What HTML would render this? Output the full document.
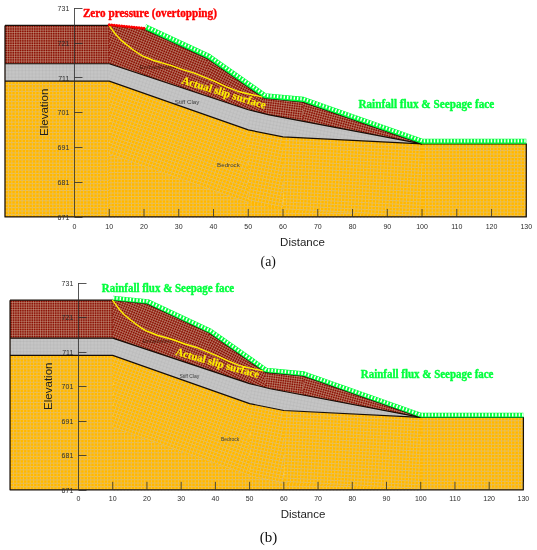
<!DOCTYPE html>
<html lang="en"><head><meta charset="utf-8"><title>Slope seepage boundary conditions</title>
<style>html,body{margin:0;padding:0;background:#fff}body{width:537px;height:550px;overflow:hidden}svg{display:block}</style></head>
<body>
<svg width="537" height="550" viewBox="0 0 537 550">
<rect width="537" height="550" fill="#fff"/>
<polygon points="4.99,81.14 109.25,81.14 248.27,129.91 283.02,136.87 422.04,143.84 526.30,143.84 526.30,216.98 4.99,216.98" fill="#ffb700"/>
<polygon points="4.99,63.73 109.25,63.73 248.27,109.70 269.12,114.93 422.04,143.84 422.04,143.84 283.02,136.87 248.27,129.91 109.25,81.14 4.99,81.14" fill="#c5c5c5"/>
<polygon points="4.99,25.41 109.25,25.41 144.01,28.90 207.26,58.33 264.26,98.21 302.83,101.87 422.04,143.84 422.04,143.84 269.12,114.93 248.27,109.70 109.25,63.73 4.99,63.73" fill="#8a0c00"/>
<path fill="none" stroke="#ece2cc" stroke-width="0.9" stroke-opacity="0.34" d="M4.99 84.56L109.25 84.56M4.99 87.98L109.25 87.98M4.99 91.4L109.25 91.4M4.99 94.82L109.25 94.82M4.99 98.24L109.25 98.24M4.99 101.65L109.25 101.65M4.99 105.07L109.25 105.07M4.99 108.49L109.25 108.49M4.99 111.91L109.25 111.91M4.99 115.33L109.25 115.33M4.99 118.75L109.25 118.75M4.99 122.16L109.25 122.16M4.99 125.58L109.25 125.58M4.99 129L109.25 129M4.99 132.42L109.25 132.42M4.99 135.84L109.25 135.84M4.99 139.26L109.25 139.26M4.99 142.67L109.25 142.67M4.99 146.09L109.25 146.09M4.99 149.51L109.25 149.51M4.99 152.93L109.25 152.93M4.99 156.35L109.25 156.35M4.99 159.77L109.25 159.77M4.99 163.19L109.25 163.19M4.99 166.6L109.25 166.6M4.99 170.02L109.25 170.02M4.99 173.44L109.25 173.44M4.99 176.86L109.25 176.86M4.99 180.28L109.25 180.28M4.99 183.7L109.25 183.7M4.99 187.11L109.25 187.11M4.99 190.53L109.25 190.53M4.99 193.95L109.25 193.95M4.99 197.37L109.25 197.37M4.99 200.79L109.25 200.79M4.99 204.21L109.25 204.21M4.99 207.62L109.25 207.62M4.99 211.04L109.25 211.04M4.99 214.46L109.25 214.46M8.41 81.14L8.41 216.98M11.83 81.14L11.83 216.98M15.25 81.14L15.25 216.98M18.67 81.14L18.67 216.98M22.08 81.14L22.08 216.98M25.5 81.14L25.5 216.98M28.92 81.14L28.92 216.98M32.34 81.14L32.34 216.98M35.76 81.14L35.76 216.98M39.18 81.14L39.18 216.98M42.59 81.14L42.59 216.98M46.01 81.14L46.01 216.98M49.43 81.14L49.43 216.98M52.85 81.14L52.85 216.98M56.27 81.14L56.27 216.98M59.69 81.14L59.69 216.98M63.11 81.14L63.11 216.98M66.52 81.14L66.52 216.98M69.94 81.14L69.94 216.98M73.36 81.14L73.36 216.98M76.78 81.14L76.78 216.98M80.2 81.14L80.2 216.98M83.62 81.14L83.62 216.98M87.03 81.14L87.03 216.98M90.45 81.14L90.45 216.98M93.87 81.14L93.87 216.98M97.29 81.14L97.29 216.98M100.71 81.14L100.71 216.98M104.13 81.14L104.13 216.98M107.54 81.14L107.54 216.98M109.25 84.77L248.27 133.53M109.25 88.39L248.27 137.15M109.25 92.01L248.27 140.77M109.25 95.63L248.27 144.4M109.25 99.26L248.27 148.02M109.25 102.88L248.27 151.64M109.25 106.5L248.27 155.26M109.25 110.12L248.27 158.89M109.25 113.75L248.27 162.51M109.25 117.37L248.27 166.13M109.25 120.99L248.27 169.75M109.25 124.61L248.27 173.38M109.25 128.24L248.27 177M109.25 131.86L248.27 180.62M109.25 135.48L248.27 184.24M109.25 139.1L248.27 187.87M109.25 142.73L248.27 191.49M109.25 146.35L248.27 195.11M109.25 149.97L248.27 198.73M109.25 153.6L248.27 202.36M112.48 82.27L109.25 91.47M115.71 83.41L109.25 101.8M118.93 84.54L109.25 112.13M122.16 85.67L109.25 122.45M125.38 86.8L109.25 132.78M128.61 87.93L109.25 143.11M131.83 89.06L109.25 153.44M135.06 90.19L112.21 155.32M138.29 91.33L115.44 156.46M141.51 92.46L118.67 157.59M144.74 93.59L121.89 158.72M147.96 94.72L125.12 159.85M151.19 95.85L128.34 160.98M154.41 96.98L131.57 162.11M157.64 98.12L134.79 163.24M160.87 99.25L138.02 164.38M164.09 100.38L141.25 165.51M167.32 101.51L144.47 166.64M170.54 102.64L147.7 167.77M173.77 103.77L150.92 168.9M176.99 104.9L154.15 170.03M180.22 106.04L157.38 171.17M183.45 107.17L160.6 172.3M186.67 108.3L163.83 173.43M189.9 109.43L167.05 174.56M193.12 110.56L170.28 175.69M196.35 111.69L173.5 176.82M199.57 112.82L176.73 177.95M202.8 113.96L179.96 179.09M206.03 115.09L183.18 180.22M209.25 116.22L186.41 181.35M212.48 117.35L189.63 182.48M215.7 118.48L192.86 183.61M218.93 119.61L196.08 184.74M222.15 120.74L199.31 185.87M225.38 121.88L202.54 187.01M228.61 123.01L205.76 188.14M231.83 124.14L208.99 189.27M235.06 125.27L212.21 190.4M238.28 126.4L215.44 191.53M241.51 127.53L218.66 192.66M244.74 128.67L221.89 193.79M247.96 129.8L225.12 194.93M248.27 139.24L228.34 196.06M248.27 149.57L231.57 197.19M248.27 159.9L234.79 198.32M248.27 170.23L238.02 199.45M248.27 180.55L241.24 200.58M248.27 190.88L244.47 201.72M248.27 201.21L247.7 202.85M248.27 133.39L283.02 140.36M248.27 136.88L283.02 143.84M248.27 140.36L283.02 147.33M248.27 143.85L283.02 150.82M248.27 147.34L283.02 154.3M248.27 150.82L283.02 157.79M248.27 154.31L283.02 161.28M248.27 157.8L283.02 164.76M248.27 161.28L283.02 168.25M248.27 164.77L283.02 171.74M248.27 168.26L283.02 175.22M248.27 171.74L283.02 178.71M248.27 175.23L283.02 182.19M248.27 178.71L283.02 185.68M248.27 182.2L283.02 189.17M248.27 185.69L283.02 192.65M248.27 189.17L283.02 196.14M248.27 192.66L283.02 199.63M248.27 196.15L283.02 203.11M248.27 199.63L283.02 206.6M251.62 130.58L248.27 147.3M254.97 131.25L248.27 164.69M258.33 131.92L248.27 182.09M261.68 132.59L248.27 199.48M265.03 133.26L250.93 203.58M268.38 133.94L254.29 204.25M271.73 134.61L257.64 204.93M275.08 135.28L260.99 205.6M278.44 135.95L264.34 206.27M281.79 136.62L267.69 206.94M283.02 147.85L271.05 207.61M283.02 165.24L274.4 208.28M283.02 182.64L277.75 208.96M283.02 200.03L281.1 209.63M283.02 140.29L422.04 147.26M283.02 143.72L422.04 150.68M283.02 147.14L422.04 154.11M283.02 150.56L422.04 157.53M283.02 153.98L422.04 160.95M283.02 157.41L422.04 164.37M283.02 160.83L422.04 167.8M283.02 164.25L422.04 171.22M283.02 167.68L422.04 174.64M283.02 171.1L422.04 178.06M283.02 174.52L422.04 181.49M283.02 177.94L422.04 184.91M283.02 181.37L422.04 188.33M283.02 184.79L422.04 191.76M283.02 188.21L422.04 195.18M283.02 191.63L422.04 198.6M283.02 195.06L422.04 202.02M283.02 198.48L422.04 205.45M283.02 201.9L422.04 208.87M283.02 205.33L422.04 212.29M283.02 208.75L422.04 215.71M286.44 137.04L283.02 205.18M289.85 137.21L286.2 210.17M293.27 137.38L289.61 210.34M296.68 137.56L293.02 210.52M300.09 137.73L296.44 210.69M303.51 137.9L299.85 210.86M306.92 138.07L303.27 211.03M310.34 138.24L306.68 211.2M313.75 138.41L310.1 211.37M317.17 138.58L313.51 211.54M320.58 138.75L316.92 211.71M323.99 138.92L320.34 211.88M327.41 139.1L323.75 212.05M330.82 139.27L327.17 212.23M334.24 139.44L330.58 212.4M337.65 139.61L333.99 212.57M341.06 139.78L337.41 212.74M344.48 139.95L340.82 212.91M347.89 140.12L344.24 213.08M351.31 140.29L347.65 213.25M354.72 140.46L351.07 213.42M358.14 140.63L354.48 213.59M361.55 140.81L357.89 213.77M364.96 140.98L361.31 213.94M368.38 141.15L364.72 214.11M371.79 141.32L368.14 214.28M375.21 141.49L371.55 214.45M378.62 141.66L374.96 214.62M382.03 141.83L378.38 214.79M385.45 142L381.79 214.96M388.86 142.17L385.21 215.13M392.28 142.35L388.62 215.31M395.69 142.52L392.03 215.48M399.1 142.69L395.45 215.65M402.52 142.86L398.86 215.82M405.93 143.03L402.28 215.99M409.35 143.2L405.69 216.16M412.76 143.37L409.11 216.33M416.18 143.54L412.52 216.5M419.59 143.71L415.93 216.67M422.04 163.12L419.35 216.85M422.04 147.26L526.3 147.26M422.04 150.67L526.3 150.67M422.04 154.09L526.3 154.09M422.04 157.51L526.3 157.51M422.04 160.93L526.3 160.93M422.04 164.35L526.3 164.35M422.04 167.77L526.3 167.77M422.04 171.18L526.3 171.18M422.04 174.6L526.3 174.6M422.04 178.02L526.3 178.02M422.04 181.44L526.3 181.44M422.04 184.86L526.3 184.86M422.04 188.28L526.3 188.28M422.04 191.69L526.3 191.69M422.04 195.11L526.3 195.11M422.04 198.53L526.3 198.53M422.04 201.95L526.3 201.95M422.04 205.37L526.3 205.37M422.04 208.79L526.3 208.79M422.04 212.21L526.3 212.21M422.04 215.62L526.3 215.62M425.46 143.84L425.46 216.98M428.88 143.84L428.88 216.98M432.3 143.84L432.3 216.98M435.71 143.84L435.71 216.98M439.13 143.84L439.13 216.98M442.55 143.84L442.55 216.98M445.97 143.84L445.97 216.98M449.39 143.84L449.39 216.98M452.81 143.84L452.81 216.98M456.22 143.84L456.22 216.98M459.64 143.84L459.64 216.98M463.06 143.84L463.06 216.98M466.48 143.84L466.48 216.98M469.9 143.84L469.9 216.98M473.32 143.84L473.32 216.98M476.73 143.84L476.73 216.98M480.15 143.84L480.15 216.98M483.57 143.84L483.57 216.98M486.99 143.84L486.99 216.98M490.41 143.84L490.41 216.98M493.83 143.84L493.83 216.98M497.25 143.84L497.25 216.98M500.66 143.84L500.66 216.98M504.08 143.84L504.08 216.98M507.5 143.84L507.5 216.98M510.92 143.84L510.92 216.98M514.34 143.84L514.34 216.98M517.76 143.84L517.76 216.98M521.17 143.84L521.17 216.98M524.59 143.84L524.59 216.98M109.25 155.45L112.57 155.45M109.25 158.87L122.31 158.87M109.25 162.29L132.06 162.29M109.25 165.7L141.8 165.7M109.25 169.12L151.55 169.12M109.25 172.54L161.3 172.54M109.25 175.96L171.04 175.96M109.25 179.38L180.79 179.38M109.25 182.8L190.53 182.8M109.25 186.21L200.28 186.21M109.25 189.63L210.02 189.63M109.25 193.05L219.77 193.05M109.25 196.47L229.52 196.47M109.25 199.89L239.26 199.89M109.25 203.31L249.56 203.31M109.25 206.72L266.61 206.72M109.25 210.14L285.6 210.14M109.25 213.56L353.82 213.56M109.25 216.98L422.04 216.98M110.96 154.89L110.96 216.98M114.38 156.08L114.38 216.98M117.8 157.28L117.8 216.98M121.22 158.48L121.22 216.98M124.64 159.68L124.64 216.98M128.06 160.88L128.06 216.98M131.47 162.08L131.47 216.98M134.89 163.28L134.89 216.98M138.31 164.48L138.31 216.98M141.73 165.68L141.73 216.98M145.15 166.88L145.15 216.98M148.57 168.08L148.57 216.98M151.98 169.27L151.98 216.98M155.4 170.47L155.4 216.98M158.82 171.67L158.82 216.98M162.24 172.87L162.24 216.98M165.66 174.07L165.66 216.98M169.08 175.27L169.08 216.98M172.49 176.47L172.49 216.98M175.91 177.67L175.91 216.98M179.33 178.87L179.33 216.98M182.75 180.07L182.75 216.98M186.17 181.26L186.17 216.98M189.59 182.46L189.59 216.98M193.01 183.66L193.01 216.98M196.42 184.86L196.42 216.98M199.84 186.06L199.84 216.98M203.26 187.26L203.26 216.98M206.68 188.46L206.68 216.98M210.1 189.66L210.1 216.98M213.52 190.86L213.52 216.98M216.93 192.06L216.93 216.98M220.35 193.26L220.35 216.98M223.77 194.45L223.77 216.98M227.19 195.65L227.19 216.98M230.61 196.85L230.61 216.98M234.03 198.05L234.03 216.98M237.44 199.25L237.44 216.98M240.86 200.45L240.86 216.98M244.28 201.65L244.28 216.98M247.7 202.85L247.7 216.98M251.12 203.62L251.12 216.98M254.54 204.3L254.54 216.98M257.96 204.99L257.96 216.98M261.37 205.67L261.37 216.98M264.79 206.36L264.79 216.98M268.21 207.04L268.21 216.98M271.63 207.73L271.63 216.98M275.05 208.42L275.05 216.98M278.47 209.1L278.47 216.98M281.88 209.79L281.88 216.98M285.3 210.13L285.3 216.98M288.72 210.3L288.72 216.98M292.14 210.47L292.14 216.98M295.56 210.64L295.56 216.98M298.98 210.81L298.98 216.98M302.4 210.98L302.4 216.98M305.81 211.16L305.81 216.98M309.23 211.33L309.23 216.98M312.65 211.5L312.65 216.98M316.07 211.67L316.07 216.98M319.49 211.84L319.49 216.98M322.91 212.01L322.91 216.98M326.32 212.18L326.32 216.98M329.74 212.36L329.74 216.98M333.16 212.53L333.16 216.98M336.58 212.7L336.58 216.98M340 212.87L340 216.98M343.42 213.04L343.42 216.98M346.83 213.21L346.83 216.98M350.25 213.38L350.25 216.98M353.67 213.55L353.67 216.98M357.09 213.73L357.09 216.98M360.51 213.9L360.51 216.98M363.93 214.07L363.93 216.98M367.35 214.24L367.35 216.98M370.76 214.41L370.76 216.98M374.18 214.58L374.18 216.98M377.6 214.75L377.6 216.98M381.02 214.92L381.02 216.98M384.44 215.1L384.44 216.98M387.86 215.27L387.86 216.98M391.27 215.44L391.27 216.98M394.69 215.61L394.69 216.98M398.11 215.78L398.11 216.98M401.53 215.95L401.53 216.98M404.95 216.12L404.95 216.98M408.37 216.29L408.37 216.98M411.78 216.47L411.78 216.98M415.2 216.64L415.2 216.98"/>
<path fill="none" stroke="#a89f90" stroke-width="1.3" stroke-opacity="0.44" stroke-dasharray="1.3 2.12" d="M7.76 84.56L109.25 84.56M7.76 87.98L109.25 87.98M7.76 91.4L109.25 91.4M7.76 94.82L109.25 94.82M7.76 98.24L109.25 98.24M7.76 101.65L109.25 101.65M7.76 105.07L109.25 105.07M7.76 108.49L109.25 108.49M7.76 111.91L109.25 111.91M7.76 115.33L109.25 115.33M7.76 118.75L109.25 118.75M7.76 122.16L109.25 122.16M7.76 125.58L109.25 125.58M7.76 129L109.25 129M7.76 132.42L109.25 132.42M7.76 135.84L109.25 135.84M7.76 139.26L109.25 139.26M7.76 142.67L109.25 142.67M7.76 146.09L109.25 146.09M7.76 149.51L109.25 149.51M7.76 152.93L109.25 152.93M7.76 156.35L109.25 156.35M7.76 159.77L109.25 159.77M7.76 163.19L109.25 163.19M7.76 166.6L109.25 166.6M7.76 170.02L109.25 170.02M7.76 173.44L109.25 173.44M7.76 176.86L109.25 176.86M7.76 180.28L109.25 180.28M7.76 183.7L109.25 183.7M7.76 187.11L109.25 187.11M7.76 190.53L109.25 190.53M7.76 193.95L109.25 193.95M7.76 197.37L109.25 197.37M7.76 200.79L109.25 200.79M7.76 204.21L109.25 204.21M7.76 207.62L109.25 207.62M7.76 211.04L109.25 211.04M7.76 214.46L109.25 214.46M110.73 85.29L248.27 133.53M109.6 88.51L248.27 137.15M111.7 92.87L248.27 140.77M110.57 96.09L248.27 144.4M109.43 99.32L248.27 148.02M111.53 103.68L248.27 151.64M110.4 106.9L248.27 155.26M109.27 110.13L248.27 158.89M111.36 114.49L248.27 162.51M110.23 117.71L248.27 166.13M112.32 122.07L248.27 169.75M111.19 125.29L248.27 173.38M110.06 128.52L248.27 177M112.15 132.88L248.27 180.62M111.02 136.1L248.27 184.24M109.89 139.33L248.27 187.87M111.99 143.69L248.27 191.49M110.85 146.91L248.27 195.11M109.72 150.14L248.27 198.73M111.82 154.49L248.27 202.36M250.31 133.8L283.02 140.36M249.64 137.15L283.02 143.84M248.97 140.5L283.02 147.33M248.3 143.86L283.02 150.82M250.98 147.88L283.02 154.3M250.31 151.23L283.02 157.79M249.63 154.58L283.02 161.28M248.96 157.93L283.02 164.76M248.29 161.29L283.02 168.25M250.97 165.31L283.02 171.74M250.3 168.66L283.02 175.22M249.63 172.01L283.02 178.71M248.95 175.37L283.02 182.19M248.28 178.72L283.02 185.68M250.96 182.74L283.02 189.17M250.29 186.09L283.02 192.65M249.62 189.44L283.02 196.14M248.95 192.8L283.02 199.63M248.28 196.15L283.02 203.11M250.96 200.17L283.02 206.6M285.62 140.42L422.04 147.26M285.45 143.84L422.04 150.68M285.28 147.25L422.04 154.11M285.1 150.67L422.04 157.53M284.93 154.08L422.04 160.95M284.76 157.49L422.04 164.37M284.59 160.91L422.04 167.8M284.42 164.32L422.04 171.22M284.25 167.74L422.04 174.64M284.08 171.15L422.04 178.06M283.91 174.57L422.04 181.49M283.74 177.98L422.04 184.91M283.56 181.39L422.04 188.33M283.39 184.81L422.04 191.76M283.22 188.22L422.04 195.18M283.05 191.64L422.04 198.6M286.29 195.22L422.04 202.02M286.12 198.64L422.04 205.45M285.95 202.05L422.04 208.87M285.78 205.46L422.04 212.29M285.61 208.88L422.04 215.71M424.81 147.26L526.3 147.26M424.81 150.67L526.3 150.67M424.81 154.09L526.3 154.09M424.81 157.51L526.3 157.51M424.81 160.93L526.3 160.93M424.81 164.35L526.3 164.35M424.81 167.77L526.3 167.77M424.81 171.18L526.3 171.18M424.81 174.6L526.3 174.6M424.81 178.02L526.3 178.02M424.81 181.44L526.3 181.44M424.81 184.86L526.3 184.86M424.81 188.28L526.3 188.28M424.81 191.69L526.3 191.69M424.81 195.11L526.3 195.11M424.81 198.53L526.3 198.53M424.81 201.95L526.3 201.95M424.81 205.37L526.3 205.37M424.81 208.79L526.3 208.79M424.81 212.21L526.3 212.21M424.81 215.62L526.3 215.62M110.31 155.45L112.57 155.45M110.31 158.87L122.31 158.87M110.31 162.29L132.06 162.29M110.31 165.7L141.8 165.7M110.31 169.12L151.55 169.12M110.31 172.54L161.3 172.54M110.31 175.96L171.04 175.96M110.31 179.38L180.79 179.38M110.31 182.8L190.53 182.8M110.31 186.21L200.28 186.21M110.31 189.63L210.02 189.63M110.31 193.05L219.77 193.05M110.31 196.47L229.52 196.47M110.31 199.89L239.26 199.89M110.31 203.31L249.56 203.31M110.31 206.72L266.61 206.72M110.31 210.14L285.6 210.14M110.31 213.56L353.82 213.56M110.31 216.98L422.04 216.98"/>
<path fill="none" stroke="#8f8f8f" stroke-width="0.8" stroke-opacity="0.15" d="M4.99 67.15L109.25 67.15M4.99 70.56L109.25 70.56M4.99 73.98L109.25 73.98M4.99 77.4L109.25 77.4M4.99 80.82L109.25 80.82M8.41 63.73L8.41 81.14M11.83 63.73L11.83 81.14M15.25 63.73L15.25 81.14M18.67 63.73L18.67 81.14M22.08 63.73L22.08 81.14M25.5 63.73L25.5 81.14M28.92 63.73L28.92 81.14M32.34 63.73L32.34 81.14M35.76 63.73L35.76 81.14M39.18 63.73L39.18 81.14M42.59 63.73L42.59 81.14M46.01 63.73L46.01 81.14M49.43 63.73L49.43 81.14M52.85 63.73L52.85 81.14M56.27 63.73L56.27 81.14M59.69 63.73L59.69 81.14M63.11 63.73L63.11 81.14M66.52 63.73L66.52 81.14M69.94 63.73L69.94 81.14M73.36 63.73L73.36 81.14M76.78 63.73L76.78 81.14M80.2 63.73L80.2 81.14M83.62 63.73L83.62 81.14M87.03 63.73L87.03 81.14M90.45 63.73L90.45 81.14M93.87 63.73L93.87 81.14M97.29 63.73L97.29 81.14M100.71 63.73L100.71 81.14M104.13 63.73L104.13 81.14M107.54 63.73L107.54 81.14M109.25 63.73L248.27 111.1M109.25 67.34L248.27 114.71M109.25 70.95L248.27 118.32M109.25 74.56L248.27 121.93M109.25 78.17L248.27 125.54M173.33 103.62L248.27 129.15M112.5 64.8L109.25 74.33M115.75 65.87L110.41 81.55M118.99 66.95L113.63 82.68M122.24 68.02L116.86 83.81M125.48 69.1L120.08 84.94M128.73 70.17L123.31 86.07M131.97 71.24L126.53 87.2M135.22 72.32L129.76 88.34M138.47 73.39L132.99 89.47M141.71 74.46L136.21 90.6M144.96 75.54L139.44 91.73M148.2 76.61L142.66 92.86M151.45 77.68L145.89 93.99M154.69 78.76L149.12 95.13M157.94 79.83L152.34 96.26M161.18 80.9L155.57 97.39M164.43 81.98L158.79 98.52M167.68 83.05L162.02 99.65M170.92 84.12L165.24 100.78M174.17 85.2L168.47 101.91M177.41 86.27L171.7 103.05M180.66 87.34L174.92 104.18M183.9 88.42L178.15 105.31M187.15 89.49L181.37 106.44M190.4 90.56L184.6 107.57M193.64 91.64L187.83 108.7M196.89 92.71L191.05 109.83M200.13 93.78L194.28 110.97M203.38 94.86L197.5 112.1M206.62 95.93L200.73 113.23M209.87 97L203.96 114.36M213.12 98.08L207.18 115.49M216.36 99.15L210.41 116.62M219.61 100.22L213.63 117.76M222.85 101.3L216.86 118.89M226.1 102.37L220.08 120.02M229.34 103.44L223.31 121.15M232.59 104.52L226.54 122.28M235.84 105.59L229.76 123.41M239.08 106.66L232.99 124.54M242.33 107.74L236.21 125.68M245.57 108.81L239.44 126.81M248.27 111.49L242.67 127.94M248.27 122.09L245.89 129.07M248.27 113.18L404.69 142.97M248.27 116.66L379.88 141.72M248.27 120.14L355.08 140.48M248.27 123.62L330.28 139.24M248.27 127.1L305.48 138M251.59 110.54L248.27 127.98M254.91 111.37L251.27 130.51M258.23 112.2L254.62 131.18M261.56 113.03L257.97 131.85M264.88 113.86L261.32 132.52M268.2 114.7L264.68 133.19M271.55 115.39L268.03 133.87M274.91 116.02L271.38 134.54M278.26 116.66L274.73 135.21M281.62 117.29L278.08 135.88M284.98 117.93L281.44 136.55M288.34 118.56L284.84 136.96M291.7 119.2L288.28 137.13M295.06 119.83L291.73 137.31M298.42 120.47L295.18 137.48M301.78 121.1L298.63 137.65M305.14 121.74L302.07 137.83M308.5 122.37L305.52 138M311.85 123.01L308.97 138.17M315.21 123.64L312.41 138.34M318.57 124.28L315.86 138.52M321.93 124.91L319.31 138.69M325.29 125.55L322.75 138.86M328.65 126.18L326.2 139.03M332.01 126.82L329.65 139.21M335.37 127.45L333.1 139.38M338.73 128.09L336.54 139.55M342.08 128.72L339.99 139.73M345.44 129.36L343.44 139.9M348.8 129.99L346.88 140.07M352.16 130.63L350.33 140.24M355.52 131.26L353.78 140.42M358.88 131.9L357.22 140.59M362.24 132.53L360.67 140.76M365.6 133.17L364.12 140.93M368.96 133.8L367.56 141.11M372.31 134.44L371.01 141.28M375.67 135.07L374.46 141.45M379.03 135.71L377.91 141.63M382.39 136.34L381.35 141.8M385.75 136.98L384.8 141.97M389.11 137.61L388.25 142.14M392.47 138.25L391.69 142.32M395.83 138.88L395.14 142.49M399.19 139.52L398.59 142.66M402.55 140.15L402.03 142.83M405.9 140.79L405.48 143.01M409.26 141.42L408.93 143.18M412.62 142.06L412.38 143.35M415.98 142.69L415.82 143.53M419.34 143.33L419.27 143.7"/>
<path fill="none" stroke="#d8c4aa" stroke-width="0.8" stroke-opacity="0.54" d="M4.99 27.79L109.25 27.79M4.99 30.17L109.25 30.17M4.99 32.55L109.25 32.55M4.99 34.93L109.25 34.93M4.99 37.31L109.25 37.31M4.99 39.69L109.25 39.69M4.99 42.07L109.25 42.07M4.99 44.45L109.25 44.45M4.99 46.83L109.25 46.83M4.99 49.2L109.25 49.2M4.99 51.58L109.25 51.58M4.99 53.96L109.25 53.96M4.99 56.34L109.25 56.34M4.99 58.72L109.25 58.72M4.99 61.1L109.25 61.1M4.99 63.48L109.25 63.48M7.37 25.41L7.37 63.73M9.75 25.41L9.75 63.73M12.13 25.41L12.13 63.73M14.51 25.41L14.51 63.73M16.89 25.41L16.89 63.73M19.27 25.41L19.27 63.73M21.64 25.41L21.64 63.73M24.02 25.41L24.02 63.73M26.4 25.41L26.4 63.73M28.78 25.41L28.78 63.73M31.16 25.41L31.16 63.73M33.54 25.41L33.54 63.73M35.92 25.41L35.92 63.73M38.3 25.41L38.3 63.73M40.68 25.41L40.68 63.73M43.05 25.41L43.05 63.73M45.43 25.41L45.43 63.73M47.81 25.41L47.81 63.73M50.19 25.41L50.19 63.73M52.57 25.41L52.57 63.73M54.95 25.41L54.95 63.73M57.33 25.41L57.33 63.73M59.71 25.41L59.71 63.73M62.09 25.41L62.09 63.73M64.46 25.41L64.46 63.73M66.84 25.41L66.84 63.73M69.22 25.41L69.22 63.73M71.6 25.41L71.6 63.73M73.98 25.41L73.98 63.73M76.36 25.41L76.36 63.73M78.74 25.41L78.74 63.73M81.12 25.41L81.12 63.73M83.5 25.41L83.5 63.73M85.87 25.41L85.87 63.73M88.25 25.41L88.25 63.73M90.63 25.41L90.63 63.73M93.01 25.41L93.01 63.73M95.39 25.41L95.39 63.73M97.77 25.41L97.77 63.73M100.15 25.41L100.15 63.73M102.53 25.41L102.53 63.73M104.91 25.41L104.91 63.73M107.28 25.41L107.28 63.73M143.35 28.83L147.07 30.32M134.83 27.98L186.85 48.83M126.3 27.12L207.26 59.58M117.78 26.27L207.26 62.14M109.25 25.41L207.26 64.7M109.25 27.98L207.26 67.27M109.25 30.54L207.26 69.83M109.25 33.1L207.26 72.39M109.25 35.67L207.26 74.95M109.25 38.23L207.26 77.52M109.25 40.79L207.26 80.08M109.25 43.36L207.26 82.64M109.25 45.92L207.26 85.21M109.25 48.48L207.26 87.77M109.25 51.04L207.26 90.33M109.25 53.61L207.26 92.9M109.25 56.17L207.26 95.46M109.25 58.73L180.45 87.28M109.25 61.3L143.92 75.19M111.72 25.66L109.25 31.81M114.18 25.91L109.25 38.2M116.65 26.16L109.25 44.6M119.11 26.4L109.25 50.99M121.57 26.65L109.25 57.38M124.04 26.9L109.27 63.73M126.5 27.14L111.53 64.48M128.97 27.39L113.8 65.23M131.43 27.64L116.06 65.98M133.89 27.88L118.32 66.73M136.36 28.13L120.59 67.48M138.82 28.38L122.85 68.22M141.29 28.63L125.11 68.97M143.75 28.87L127.37 69.72M145.94 29.8L129.64 70.47M148.1 30.8L131.9 71.22M150.26 31.81L134.16 71.97M152.42 32.81L136.43 72.71M154.58 33.82L138.69 73.46M156.74 34.82L140.95 74.21M158.9 35.83L143.21 74.96M161.06 36.83L145.48 75.71M163.22 37.84L147.74 76.46M165.38 38.84L150 77.2M167.54 39.85L152.27 77.95M169.7 40.85L154.53 78.7M171.86 41.86L156.79 79.45M174.02 42.86L159.05 80.2M176.18 43.87L161.32 80.95M178.34 44.87L163.58 81.7M180.5 45.88L165.84 82.44M182.66 46.88L168.11 83.19M184.82 47.89L170.37 83.94M186.98 48.89L172.63 84.69M189.14 49.9L174.9 85.44M191.3 50.9L177.16 86.19M193.46 51.91L179.42 86.93M195.62 52.91L181.68 87.68M197.78 53.92L183.95 88.43M199.94 54.92L186.21 89.18M202.1 55.93L188.47 89.93M204.26 56.93L190.74 90.68M206.42 57.94L193 91.42M207.26 62.24L195.26 92.17M207.26 68.63L197.52 92.92M207.26 75.03L199.79 93.67M207.26 81.42L202.05 94.42M207.26 87.81L204.31 95.17M207.26 94.21L206.58 95.91M207.26 61.01L222.28 68.84M207.26 63.69L237.31 79.35M207.26 66.38L252.33 89.86M207.26 69.06L264.26 98.76M207.26 71.74L264.26 101.45M207.26 74.42L264.26 104.13M207.26 77.11L264.26 106.81M207.26 79.79L264.26 109.49M207.26 82.47L264.26 112.18M207.26 85.15L260.01 112.65M207.26 87.84L250.1 110.16M207.26 90.52L236.78 105.9M207.26 93.2L222.69 101.24M207.26 95.89L208.6 96.58M209.23 59.7L207.26 63.48M211.19 61.08L207.26 68.62M213.16 62.46L207.26 73.77M215.12 63.83L207.26 78.92M217.09 65.21L207.26 84.07M219.05 66.58L207.26 89.21M221.02 67.96L207.26 94.36M222.99 69.33L208.76 96.64M224.95 70.71L211.05 97.39M226.92 72.08L213.33 98.15M228.88 73.46L215.62 98.91M230.85 74.83L217.91 99.66M232.82 76.21L220.2 100.42M234.78 77.59L222.49 101.18M236.75 78.96L224.78 101.93M238.71 80.34L227.06 102.69M240.68 81.71L229.35 103.45M242.64 83.09L231.64 104.2M244.61 84.46L233.93 104.96M246.58 85.84L236.22 105.72M248.54 87.21L238.5 106.47M250.51 88.59L240.79 107.23M252.47 89.96L243.08 107.99M254.44 91.34L245.37 108.74M256.4 92.72L247.66 109.5M258.37 94.09L250.01 110.14M260.34 95.47L252.38 110.73M262.3 96.84L254.75 111.33M264.26 98.24L257.13 111.92M264.26 103.39L259.5 112.52M264.26 108.53L261.87 113.11M264.26 98.38L302.83 103.4M264.26 100.78L302.83 105.8M264.26 103.17L302.83 108.2M264.26 105.57L302.83 110.6M264.26 107.97L302.83 113M264.26 110.37L302.83 115.4M264.26 112.77L302.83 117.8M284.03 117.75L302.83 120.2M265.67 98.34L264.26 109.23M268.04 98.57L266.01 114.15M270.41 98.79L268.34 114.73M272.78 99.02L270.67 115.22M275.15 99.24L273.01 115.66M277.52 99.47L275.36 116.11M279.89 99.69L277.7 116.55M282.26 99.92L280.04 116.99M284.63 100.14L282.38 117.43M287 100.37L284.72 117.88M289.37 100.59L287.06 118.32M291.74 100.82L289.4 118.76M294.11 101.04L291.75 119.2M296.48 101.26L294.09 119.65M298.85 101.49L296.43 120.09M301.22 101.71L298.77 120.53M302.83 107.75L301.11 120.98M302.83 104.22L331.75 112.05M302.83 106.69L361.99 122.7M302.83 109.15L392.24 133.34M302.83 111.62L421.6 143.75M302.83 114.08L391.38 138.04M302.83 116.55L361.15 132.33M302.83 119.01L330.93 126.61M303.83 102.22L302.83 105.89M306.08 103.01L302.83 115M308.33 103.8L303.56 121.44M310.58 104.59L305.9 121.88M312.83 105.39L308.25 122.32M315.08 106.18L310.59 122.77M317.33 106.97L312.93 123.21M319.58 107.76L315.28 123.65M321.83 108.55L317.62 124.1M324.08 109.35L319.97 124.54M326.33 110.14L322.31 124.98M328.58 110.93L324.66 125.43M330.83 111.72L327 125.87M333.08 112.52L329.35 126.31M335.33 113.31L331.69 126.76M337.58 114.1L334.04 127.2M339.83 114.89L336.38 127.64M342.08 115.68L338.72 128.09M344.33 116.48L341.07 128.53M346.58 117.27L343.41 128.97M348.83 118.06L345.76 129.42M351.08 118.85L348.1 129.86M353.33 119.65L350.45 130.3M355.58 120.44L352.79 130.75M357.83 121.23L355.14 131.19M360.08 122.02L357.48 131.63M362.33 122.81L359.83 132.08M364.58 123.61L362.17 132.52M366.83 124.4L364.51 132.96M369.08 125.19L366.86 133.41M371.33 125.98L369.2 133.85M373.58 126.78L371.55 134.29M375.83 127.57L373.89 134.73M378.08 128.36L376.24 135.18M380.33 129.15L378.58 135.62M382.58 129.94L380.93 136.06M384.83 130.74L383.27 136.51M387.08 131.53L385.62 136.95M389.33 132.32L387.96 137.39M391.58 133.11L390.3 137.84M393.83 133.91L392.65 138.28M396.08 134.7L394.99 138.72M398.33 135.49L397.34 139.17M400.58 136.28L399.68 139.61M402.83 137.07L402.03 140.05M405.08 137.87L404.37 140.5M407.33 138.66L406.72 140.94M409.58 139.45L409.06 141.38M411.83 140.24L411.4 141.83M414.08 141.04L413.75 142.27M416.33 141.83L416.09 142.71M418.58 142.62L418.44 143.16"/>
<g fill="none" stroke="#170e08" stroke-width="1.15" stroke-linejoin="round">
<polyline points="4.99,63.73 109.25,63.73 248.27,109.70 269.12,114.93 422.04,143.84"/>
<polyline points="4.99,81.14 109.25,81.14 248.27,129.91 283.02,136.87 422.04,143.84"/>
<polyline points="4.99,25.41 109.25,25.41 144.01,28.90 207.26,58.33 264.26,98.21 302.83,101.87 422.04,143.84 526.30,143.84 526.30,216.98 4.99,216.98 4.99,25.41" stroke-width="1.25"/>
</g>
<g stroke="#2b2b2b" stroke-width="0.8" fill="none">
<path d="M74.5 8V216.98"/>
<path d="M74.5 8.5h8 M74.5 43.5h8 M74.5 77.5h8 M74.5 112.5h8 M74.5 147.5h8 M74.5 182.5h8 M74.5 217.5h8 M109.25 216.98v-8 M144.01 216.98v-8 M178.76 216.98v-8 M213.52 216.98v-8 M248.27 216.98v-8 M283.02 216.98v-8 M317.78 216.98v-8 M352.53 216.98v-8 M387.29 216.98v-8 M422.04 216.98v-8 M456.79 216.98v-8 M491.55 216.98v-8 M526.3 216.98v-8"/>
</g>
<g font-family="'Liberation Sans', sans-serif" font-size="7" fill="#2c2c2c">
<text x="69.3" y="10.9" text-anchor="end">731</text>
<text x="69.3" y="45.73" text-anchor="end">721</text>
<text x="69.3" y="80.56" text-anchor="end">711</text>
<text x="69.3" y="115.39" text-anchor="end">701</text>
<text x="69.3" y="150.22" text-anchor="end">691</text>
<text x="69.3" y="185.05" text-anchor="end">681</text>
<text x="69.3" y="219.88" text-anchor="end">671</text>
<text x="74.5" y="228.58" text-anchor="middle">0</text>
<text x="109.25" y="228.58" text-anchor="middle">10</text>
<text x="144.01" y="228.58" text-anchor="middle">20</text>
<text x="178.76" y="228.58" text-anchor="middle">30</text>
<text x="213.52" y="228.58" text-anchor="middle">40</text>
<text x="248.27" y="228.58" text-anchor="middle">50</text>
<text x="283.02" y="228.58" text-anchor="middle">60</text>
<text x="317.78" y="228.58" text-anchor="middle">70</text>
<text x="352.53" y="228.58" text-anchor="middle">80</text>
<text x="387.29" y="228.58" text-anchor="middle">90</text>
<text x="422.04" y="228.58" text-anchor="middle">100</text>
<text x="456.79" y="228.58" text-anchor="middle">110</text>
<text x="491.55" y="228.58" text-anchor="middle">120</text>
<text x="526.3" y="228.58" text-anchor="middle">130</text>
</g>
<g font-family="'Liberation Sans', sans-serif" font-size="11.5" fill="#1e1e1e">
<text x="302.49" y="245.58" text-anchor="middle">Distance</text>
<text transform="translate(48.09 112.32) rotate(-90)" text-anchor="middle">Elevation</text>
</g>
<g font-family="'Liberation Sans', sans-serif" font-size="6.2" fill="#3c3c3c" text-anchor="middle">
<text x="187.1" y="103.61">Stiff Clay</text>
<text x="228.46" y="167.35">Bedrock</text>
<text x="139.49" y="69.13" fill="#2a0f06" fill-opacity="0.7" text-anchor="start">Embankment</text>
</g>
<polyline points="109.18,25.59 115.37,33.98 120.97,40.11 126.49,44.61 132.09,48.99 137.68,53.00 143.28,56.31 148.87,58.50 154.47,60.80 160.17,62.30 171.36,65.61 182.45,69.61 193.64,72.89 204.83,77.42 215.15,81.70 226.34,86.79 237.43,91.21 248.62,94.00 262.00,96.82" fill="none" stroke="#fff000" stroke-width="1.4" stroke-linejoin="round" stroke-linecap="round"/>
<polyline points="145.08,26.59 208.54,56.11 265.17,95.73 303.39,99.36 422.48,141.29 526.30,141.29" fill="none" stroke="#00ff3c" stroke-width="5.1" stroke-linejoin="bevel"/>
<polyline points="145.25,26.22 208.74,55.76 265.31,95.35 303.47,98.96 422.54,140.89 526.30,140.89" fill="none" stroke="#fff" stroke-width="3.2" stroke-dasharray="1.45 1.9"/>
<circle cx="109.25" cy="24.81" r="1.5" fill="#ff0000"/>
<circle cx="111.74" cy="25.06" r="1.5" fill="#ff0000"/>
<circle cx="114.22" cy="25.31" r="1.5" fill="#ff0000"/>
<circle cx="116.7" cy="25.56" r="1.5" fill="#ff0000"/>
<circle cx="119.18" cy="25.81" r="1.5" fill="#ff0000"/>
<circle cx="121.67" cy="26.06" r="1.5" fill="#ff0000"/>
<circle cx="124.15" cy="26.31" r="1.5" fill="#ff0000"/>
<circle cx="126.63" cy="26.56" r="1.5" fill="#ff0000"/>
<circle cx="129.11" cy="26.81" r="1.5" fill="#ff0000"/>
<circle cx="131.6" cy="27.05" r="1.5" fill="#ff0000"/>
<circle cx="134.08" cy="27.3" r="1.5" fill="#ff0000"/>
<circle cx="136.56" cy="27.55" r="1.5" fill="#ff0000"/>
<circle cx="139.04" cy="27.8" r="1.5" fill="#ff0000"/>
<circle cx="141.53" cy="28.05" r="1.5" fill="#ff0000"/>
<circle cx="144.01" cy="28.3" r="1.5" fill="#ff0000"/>
<g font-family="'Liberation Serif', serif" font-weight="bold" stroke-width="0.4" stroke-linejoin="round">
<text x="82.9" y="16.6" font-size="12.2" fill="#ff0000" stroke="#ff0000" textLength="134" lengthAdjust="spacingAndGlyphs">Zero pressure (overtopping)</text>
<text x="358.4" y="107.6" font-size="12.4" fill="#00ff3c" stroke="#00ff3c" textLength="135.8" lengthAdjust="spacingAndGlyphs">Rainfall flux &amp; Seepage face</text>
<text transform="translate(181 83.2) rotate(17)" font-size="11" fill="#fff000" stroke="#fff000" stroke-width="0.2">Actual slip surface</text>
</g>
<polygon points="10.05,355.38 112.72,355.38 249.62,403.63 283.84,410.53 420.73,417.42 523.40,417.42 523.40,489.80 10.05,489.80" fill="#ffb700"/>
<polygon points="10.05,338.15 112.72,338.15 249.62,383.64 270.15,388.81 420.73,417.42 420.73,417.42 283.84,410.53 249.62,403.63 112.72,355.38 10.05,355.38" fill="#c5c5c5"/>
<polygon points="10.05,300.23 112.72,300.23 146.95,303.68 209.23,332.80 265.36,372.27 303.35,375.89 420.73,417.42 420.73,417.42 270.15,388.81 249.62,383.64 112.72,338.15 10.05,338.15" fill="#8a0c00"/>
<path fill="none" stroke="#ece2cc" stroke-width="0.9" stroke-opacity="0.34" d="M10.05 358.75L112.72 358.75M10.05 362.11L112.72 362.11M10.05 365.48L112.72 365.48M10.05 368.85L112.72 368.85M10.05 372.21L112.72 372.21M10.05 375.58L112.72 375.58M10.05 378.94L112.72 378.94M10.05 382.31L112.72 382.31M10.05 385.68L112.72 385.68M10.05 389.04L112.72 389.04M10.05 392.41L112.72 392.41M10.05 395.78L112.72 395.78M10.05 399.14L112.72 399.14M10.05 402.51L112.72 402.51M10.05 405.87L112.72 405.87M10.05 409.24L112.72 409.24M10.05 412.61L112.72 412.61M10.05 415.97L112.72 415.97M10.05 419.34L112.72 419.34M10.05 422.7L112.72 422.7M10.05 426.07L112.72 426.07M10.05 429.44L112.72 429.44M10.05 432.8L112.72 432.8M10.05 436.17L112.72 436.17M10.05 439.54L112.72 439.54M10.05 442.9L112.72 442.9M10.05 446.27L112.72 446.27M10.05 449.63L112.72 449.63M10.05 453L112.72 453M10.05 456.37L112.72 456.37M10.05 459.73L112.72 459.73M10.05 463.1L112.72 463.1M10.05 466.47L112.72 466.47M10.05 469.83L112.72 469.83M10.05 473.2L112.72 473.2M10.05 476.56L112.72 476.56M10.05 479.93L112.72 479.93M10.05 483.3L112.72 483.3M10.05 486.66L112.72 486.66M13.42 355.38L13.42 489.8M16.79 355.38L16.79 489.8M20.15 355.38L20.15 489.8M23.52 355.38L23.52 489.8M26.88 355.38L26.88 489.8M30.25 355.38L30.25 489.8M33.62 355.38L33.62 489.8M36.98 355.38L36.98 489.8M40.35 355.38L40.35 489.8M43.72 355.38L43.72 489.8M47.08 355.38L47.08 489.8M50.45 355.38L50.45 489.8M53.81 355.38L53.81 489.8M57.18 355.38L57.18 489.8M60.55 355.38L60.55 489.8M63.91 355.38L63.91 489.8M67.28 355.38L67.28 489.8M70.65 355.38L70.65 489.8M74.01 355.38L74.01 489.8M77.38 355.38L77.38 489.8M80.74 355.38L80.74 489.8M84.11 355.38L84.11 489.8M87.48 355.38L87.48 489.8M90.84 355.38L90.84 489.8M94.21 355.38L94.21 489.8M97.58 355.38L97.58 489.8M100.94 355.38L100.94 489.8M104.31 355.38L104.31 489.8M107.67 355.38L107.67 489.8M111.04 355.38L111.04 489.8M112.72 358.95L249.62 407.2M112.72 362.52L249.62 410.77M112.72 366.09L249.62 414.34M112.72 369.66L249.62 417.91M112.72 373.23L249.62 421.48M112.72 376.8L249.62 425.05M112.72 380.37L249.62 428.62M112.72 383.93L249.62 432.19M112.72 387.5L249.62 435.76M112.72 391.07L249.62 439.33M112.72 394.64L249.62 442.9M112.72 398.21L249.62 446.46M112.72 401.78L249.62 450.03M112.72 405.35L249.62 453.6M112.72 408.92L249.62 457.17M112.72 412.49L249.62 460.74M112.72 416.06L249.62 464.31M112.72 419.63L249.62 467.88M112.72 423.2L249.62 471.45M112.72 426.76L249.62 475.02M115.9 356.5L112.72 365.51M119.07 357.62L112.72 375.63M122.25 358.74L112.72 385.76M125.42 359.86L112.72 395.88M128.6 360.98L112.72 406.01M131.77 362.1L112.72 416.13M134.95 363.21L112.72 426.26M138.12 364.33L115.43 428.71M141.3 365.45L118.6 429.83M144.47 366.57L121.78 430.95M147.65 367.69L124.95 432.07M150.82 368.81L128.13 433.19M153.99 369.93L131.3 434.31M157.17 371.05L134.48 435.43M160.34 372.17L137.65 436.55M163.52 373.29L140.82 437.67M166.69 374.41L144 438.79M169.87 375.52L147.17 439.91M173.04 376.64L150.35 441.02M176.22 377.76L153.52 442.14M179.39 378.88L156.7 443.26M182.57 380L159.87 444.38M185.74 381.12L163.05 445.5M188.92 382.24L166.22 446.62M192.09 383.36L169.4 447.74M195.27 384.48L172.57 448.86M198.44 385.6L175.75 449.98M201.62 386.71L178.92 451.1M204.79 387.83L182.1 452.22M207.97 388.95L185.27 453.33M211.14 390.07L188.45 454.45M214.31 391.19L191.62 455.57M217.49 392.31L194.8 456.69M220.66 393.43L197.97 457.81M223.84 394.55L201.14 458.93M227.01 395.67L204.32 460.05M230.19 396.79L207.49 461.17M233.36 397.91L210.67 462.29M236.54 399.02L213.84 463.41M239.71 400.14L217.02 464.53M242.89 401.26L220.19 465.64M246.06 402.38L223.37 466.76M249.24 403.5L226.54 467.88M249.62 412.55L229.72 469M249.62 422.68L232.89 470.12M249.62 432.8L236.07 471.24M249.62 442.93L239.24 472.36M249.62 453.06L242.42 473.48M249.62 463.18L245.59 474.6M249.62 473.31L248.77 475.72M249.62 403.63L283.84 410.53M249.62 407.07L283.84 413.96M249.62 410.5L283.84 417.4M249.62 413.94L283.84 420.83M249.62 417.37L283.84 424.26M249.62 420.8L283.84 427.7M249.62 424.24L283.84 431.13M249.62 427.67L283.84 434.56M249.62 431.1L283.84 438M249.62 434.54L283.84 441.43M249.62 437.97L283.84 444.87M249.62 441.41L283.84 448.3M249.62 444.84L283.84 451.73M249.62 448.27L283.84 455.17M249.62 451.71L283.84 458.6M249.62 455.14L283.84 462.03M249.62 458.58L283.84 465.47M249.62 462.01L283.84 468.9M249.62 465.44L283.84 472.34M249.62 468.88L283.84 475.77M249.62 472.31L283.84 479.2M249.62 475.74L283.84 482.64M252.91 404.3L249.62 420.68M256.21 404.96L249.62 437.73M259.51 405.63L249.62 454.78M262.81 406.29L249.62 471.82M266.11 406.96L252.1 476.52M269.41 407.62L255.4 477.18M272.71 408.29L258.7 477.85M276.01 408.95L262 478.51M279.31 409.62L265.3 479.18M282.61 410.28L268.6 479.84M283.84 421.25L271.9 480.5M283.84 438.3L275.2 481.17M283.84 455.35L278.5 481.83M283.84 472.4L281.8 482.5M283.84 410.53L420.73 417.42M283.84 413.9L420.73 420.79M283.84 417.27L420.73 424.16M283.84 420.64L420.73 427.53M283.84 424.01L420.73 430.9M283.84 427.38L420.73 434.27M283.84 430.75L420.73 437.64M283.84 434.12L420.73 441.01M283.84 437.49L420.73 444.38M283.84 440.86L420.73 447.76M283.84 444.23L420.73 451.13M283.84 447.6L420.73 454.5M283.84 450.97L420.73 457.87M283.84 454.34L420.73 461.24M283.84 457.71L420.73 464.61M283.84 461.08L420.73 467.98M283.84 464.46L420.73 471.35M283.84 467.83L420.73 474.72M283.84 471.2L420.73 478.09M283.84 474.57L420.73 481.46M283.84 477.94L420.73 484.83M283.84 481.31L420.73 488.2M287.2 410.7L283.84 477.46M290.56 410.87L286.93 483.06M293.92 411.04L290.29 483.23M297.29 411.21L293.65 483.4M300.65 411.37L297.01 483.57M304.01 411.54L300.37 483.74M307.37 411.71L303.74 483.91M310.73 411.88L307.1 484.08M314.1 412.05L310.46 484.25M317.46 412.22L313.82 484.42M320.82 412.39L317.18 484.59M324.18 412.56L320.55 484.76M327.54 412.73L323.91 484.93M330.91 412.9L327.27 485.1M334.27 413.07L330.63 485.26M337.63 413.24L333.99 485.43M340.99 413.41L337.36 485.6M344.35 413.58L340.72 485.77M347.71 413.74L344.08 485.94M351.08 413.91L347.44 486.11M354.44 414.08L350.8 486.28M357.8 414.25L354.16 486.45M361.16 414.42L357.53 486.62M364.52 414.59L360.89 486.79M367.89 414.76L364.25 486.96M371.25 414.93L367.61 487.13M374.61 415.1L370.97 487.3M377.97 415.27L374.34 487.47M381.33 415.44L377.7 487.64M384.7 415.61L381.06 487.8M388.06 415.78L384.42 487.97M391.42 415.95L387.78 488.14M394.78 416.11L391.15 488.31M398.14 416.28L394.51 488.48M401.51 416.45L397.87 488.65M404.87 416.62L401.23 488.82M408.23 416.79L404.59 488.99M411.59 416.96L407.96 489.16M414.95 417.13L411.32 489.33M418.32 417.3L414.68 489.5M420.73 436.28L418.04 489.67M420.73 420.79L523.4 420.79M420.73 424.15L523.4 424.15M420.73 427.52L523.4 427.52M420.73 430.89L523.4 430.89M420.73 434.25L523.4 434.25M420.73 437.62L523.4 437.62M420.73 440.98L523.4 440.98M420.73 444.35L523.4 444.35M420.73 447.72L523.4 447.72M420.73 451.08L523.4 451.08M420.73 454.45L523.4 454.45M420.73 457.82L523.4 457.82M420.73 461.18L523.4 461.18M420.73 464.55L523.4 464.55M420.73 467.91L523.4 467.91M420.73 471.28L523.4 471.28M420.73 474.65L523.4 474.65M420.73 478.01L523.4 478.01M420.73 481.38L523.4 481.38M420.73 484.75L523.4 484.75M420.73 488.11L523.4 488.11M424.1 417.42L424.1 489.8M427.46 417.42L427.46 489.8M430.83 417.42L430.83 489.8M434.19 417.42L434.19 489.8M437.56 417.42L437.56 489.8M440.93 417.42L440.93 489.8M444.29 417.42L444.29 489.8M447.66 417.42L447.66 489.8M451.03 417.42L451.03 489.8M454.39 417.42L454.39 489.8M457.76 417.42L457.76 489.8M461.12 417.42L461.12 489.8M464.49 417.42L464.49 489.8M467.86 417.42L467.86 489.8M471.22 417.42L471.22 489.8M474.59 417.42L474.59 489.8M477.96 417.42L477.96 489.8M481.32 417.42L481.32 489.8M484.69 417.42L484.69 489.8M488.05 417.42L488.05 489.8M491.42 417.42L491.42 489.8M494.79 417.42L494.79 489.8M498.15 417.42L498.15 489.8M501.52 417.42L501.52 489.8M504.88 417.42L504.88 489.8M508.25 417.42L508.25 489.8M511.62 417.42L511.62 489.8M514.98 417.42L514.98 489.8M518.35 417.42L518.35 489.8M521.72 417.42L521.72 489.8M112.72 429.21L116.83 429.21M112.72 432.58L126.38 432.58M112.72 435.94L135.93 435.94M112.72 439.31L145.48 439.31M112.72 442.68L155.03 442.68M112.72 446.04L164.58 446.04M112.72 449.41L174.13 449.41M112.72 452.77L183.68 452.77M112.72 456.14L193.23 456.14M112.72 459.51L202.78 459.51M112.72 462.87L212.33 462.87M112.72 466.24L221.88 466.24M112.72 469.6L231.43 469.6M112.72 472.97L240.98 472.97M112.72 476.34L251.21 476.34M112.72 479.7L267.93 479.7M112.72 483.07L287.04 483.07M112.72 486.44L353.88 486.44M112.72 489.8L420.73 489.8M114.41 428.35L114.41 489.8M117.77 429.54L117.77 489.8M121.14 430.73L121.14 489.8M124.5 431.91L124.5 489.8M127.87 433.1L127.87 489.8M131.24 434.29L131.24 489.8M134.6 435.47L134.6 489.8M137.97 436.66L137.97 489.8M141.34 437.85L141.34 489.8M144.7 439.03L144.7 489.8M148.07 440.22L148.07 489.8M151.43 441.41L151.43 489.8M154.8 442.59L154.8 489.8M158.17 443.78L158.17 489.8M161.53 444.97L161.53 489.8M164.9 446.15L164.9 489.8M168.27 447.34L168.27 489.8M171.63 448.53L171.63 489.8M175 449.71L175 489.8M178.36 450.9L178.36 489.8M181.73 452.09L181.73 489.8M185.1 453.27L185.1 489.8M188.46 454.46L188.46 489.8M191.83 455.65L191.83 489.8M195.19 456.83L195.19 489.8M198.56 458.02L198.56 489.8M201.93 459.21L201.93 489.8M205.29 460.39L205.29 489.8M208.66 461.58L208.66 489.8M212.03 462.77L212.03 489.8M215.39 463.95L215.39 489.8M218.76 465.14L218.76 489.8M222.12 466.32L222.12 489.8M225.49 467.51L225.49 489.8M228.86 468.7L228.86 489.8M232.22 469.88L232.22 489.8M235.59 471.07L235.59 489.8M238.96 472.26L238.96 489.8M242.32 473.44L242.32 489.8M245.69 474.63L245.69 489.8M249.05 475.82L249.05 489.8M252.42 476.58L252.42 489.8M255.79 477.26L255.79 489.8M259.15 477.94L259.15 489.8M262.52 478.61L262.52 489.8M265.88 479.29L265.88 489.8M269.25 479.97L269.25 489.8M272.62 480.65L272.62 489.8M275.98 481.33L275.98 489.8M279.35 482L279.35 489.8M282.72 482.68L282.72 489.8M286.08 483.02L286.08 489.8M289.45 483.19L289.45 489.8M292.81 483.36L292.81 489.8M296.18 483.53L296.18 489.8M299.55 483.7L299.55 489.8M302.91 483.87L302.91 489.8M306.28 484.04L306.28 489.8M309.65 484.21L309.65 489.8M313.01 484.38L313.01 489.8M316.38 484.55L316.38 489.8M319.74 484.72L319.74 489.8M323.11 484.89L323.11 489.8M326.48 485.06L326.48 489.8M329.84 485.23L329.84 489.8M333.21 485.39L333.21 489.8M336.58 485.56L336.58 489.8M339.94 485.73L339.94 489.8M343.31 485.9L343.31 489.8M346.67 486.07L346.67 489.8M350.04 486.24L350.04 489.8M353.41 486.41L353.41 489.8M356.77 486.58L356.77 489.8M360.14 486.75L360.14 489.8M363.5 486.92L363.5 489.8M366.87 487.09L366.87 489.8M370.24 487.26L370.24 489.8M373.6 487.43L373.6 489.8M376.97 487.6L376.97 489.8M380.34 487.77L380.34 489.8M383.7 487.94L383.7 489.8M387.07 488.11L387.07 489.8M390.43 488.28L390.43 489.8M393.8 488.45L393.8 489.8M397.17 488.62L397.17 489.8M400.53 488.78L400.53 489.8M403.9 488.95L403.9 489.8M407.27 489.12L407.27 489.8M410.63 489.29L410.63 489.8M414 489.46L414 489.8"/>
<path fill="none" stroke="#a89f90" stroke-width="1.3" stroke-opacity="0.44" stroke-dasharray="1.3 2.07" d="M12.77 358.75L112.72 358.75M12.77 362.11L112.72 362.11M12.77 365.48L112.72 365.48M12.77 368.85L112.72 368.85M12.77 372.21L112.72 372.21M12.77 375.58L112.72 375.58M12.77 378.94L112.72 378.94M12.77 382.31L112.72 382.31M12.77 385.68L112.72 385.68M12.77 389.04L112.72 389.04M12.77 392.41L112.72 392.41M12.77 395.78L112.72 395.78M12.77 399.14L112.72 399.14M12.77 402.51L112.72 402.51M12.77 405.87L112.72 405.87M12.77 409.24L112.72 409.24M12.77 412.61L112.72 412.61M12.77 415.97L112.72 415.97M12.77 419.34L112.72 419.34M12.77 422.7L112.72 422.7M12.77 426.07L112.72 426.07M12.77 429.44L112.72 429.44M12.77 432.8L112.72 432.8M12.77 436.17L112.72 436.17M12.77 439.54L112.72 439.54M12.77 442.9L112.72 442.9M12.77 446.27L112.72 446.27M12.77 449.63L112.72 449.63M12.77 453L112.72 453M12.77 456.37L112.72 456.37M12.77 459.73L112.72 459.73M12.77 463.1L112.72 463.1M12.77 466.47L112.72 466.47M12.77 469.83L112.72 469.83M12.77 473.2L112.72 473.2M12.77 476.56L112.72 476.56M12.77 479.93L112.72 479.93M12.77 483.3L112.72 483.3M12.77 486.66L112.72 486.66M114.17 359.46L249.62 407.2M113.05 362.63L249.62 410.77M115.1 366.93L249.62 414.34M113.98 370.1L249.61 417.91M112.86 373.28L249.62 421.48M114.92 377.57L249.61 425.05M113.8 380.74L249.62 428.62M115.86 385.04L249.62 432.19M114.74 388.21L249.62 435.76M113.62 391.39L249.62 439.33M115.67 395.68L249.62 442.9M114.55 398.86L249.62 446.46M113.44 402.03L249.61 450.03M115.49 406.33L249.62 453.6M114.37 409.5L249.62 457.17M113.25 412.67L249.62 460.74M115.31 416.97L249.62 464.31M114.19 420.14L249.62 467.88M113.07 423.32L249.62 471.45M115.13 427.61L249.61 475.02M252.28 404.17L283.84 410.53M251.61 407.47L283.84 413.96M250.95 410.77L283.84 417.4M250.28 414.07L283.84 420.83M249.62 417.37L283.84 424.26M252.25 421.34L283.84 427.7M251.59 424.64L283.84 431.13M250.92 427.93L283.84 434.56M250.26 431.23L283.84 438M252.9 435.2L283.84 441.43M252.23 438.5L283.84 444.87M251.57 441.8L283.84 448.3M250.9 445.1L283.84 451.73M250.24 448.4L283.84 455.17M252.87 452.36L283.84 458.6M252.21 455.66L283.84 462.03M251.54 458.96L283.84 465.47M250.88 462.26L283.84 468.9M250.21 465.56L283.84 472.34M252.85 469.53L283.84 475.77M252.18 472.83L283.84 479.2M251.52 476.13L283.84 482.64M286.55 410.66L420.73 417.42M286.38 414.03L420.73 420.79M286.21 417.39L420.73 424.16M286.04 420.75L420.73 427.53M285.87 424.11L420.73 430.9M285.7 427.47L420.73 434.27M285.53 430.84L420.73 437.64M285.37 434.2L420.73 441.01M285.2 437.56L420.73 444.38M285.03 440.92L420.73 447.76M284.86 444.28L420.73 451.13M284.69 447.65L420.73 454.5M284.52 451.01L420.73 457.87M284.35 454.37L420.73 461.24M284.18 457.73L420.73 464.61M284.01 461.09L420.73 467.98M283.84 464.46L420.73 471.35M287.03 467.99L420.73 474.72M286.87 471.35L420.73 478.09M286.7 474.71L420.73 481.46M286.53 478.07L420.73 484.83M286.36 481.43L420.73 488.2M423.45 420.79L523.4 420.79M423.45 424.15L523.4 424.15M423.45 427.52L523.4 427.52M423.45 430.89L523.4 430.89M423.45 434.25L523.4 434.25M423.45 437.62L523.4 437.62M423.45 440.98L523.4 440.98M423.45 444.35L523.4 444.35M423.45 447.72L523.4 447.72M423.45 451.08L523.4 451.08M423.45 454.45L523.4 454.45M423.45 457.82L523.4 457.82M423.45 461.18L523.4 461.18M423.45 464.55L523.4 464.55M423.45 467.91L523.4 467.91M423.45 471.28L523.4 471.28M423.45 474.65L523.4 474.65M423.45 478.01L523.4 478.01M423.45 481.38L523.4 481.38M423.45 484.75L523.4 484.75M423.45 488.11L523.4 488.11M113.76 429.21L116.83 429.21M113.76 432.58L126.38 432.58M113.76 435.94L135.93 435.94M113.76 439.31L145.48 439.31M113.76 442.68L155.03 442.68M113.76 446.04L164.58 446.04M113.76 449.41L174.13 449.41M113.76 452.77L183.68 452.77M113.76 456.14L193.23 456.14M113.76 459.51L202.78 459.51M113.76 462.87L212.33 462.87M113.76 466.24L221.88 466.24M113.76 469.6L231.43 469.6M113.76 472.97L240.98 472.97M113.76 476.34L251.21 476.34M113.76 479.7L267.93 479.7M113.76 483.07L287.04 483.07M113.76 486.44L353.88 486.44M113.76 489.8L420.73 489.8"/>
<path fill="none" stroke="#8f8f8f" stroke-width="0.8" stroke-opacity="0.15" d="M10.05 341.51L112.72 341.51M10.05 344.88L112.72 344.88M10.05 348.25L112.72 348.25M10.05 351.61L112.72 351.61M10.05 354.98L112.72 354.98M13.42 338.15L13.42 355.38M16.79 338.15L16.79 355.38M20.15 338.15L20.15 355.38M23.52 338.15L23.52 355.38M26.88 338.15L26.88 355.38M30.25 338.15L30.25 355.38M33.62 338.15L33.62 355.38M36.98 338.15L36.98 355.38M40.35 338.15L40.35 355.38M43.72 338.15L43.72 355.38M47.08 338.15L47.08 355.38M50.45 338.15L50.45 355.38M53.81 338.15L53.81 355.38M57.18 338.15L57.18 355.38M60.55 338.15L60.55 355.38M63.91 338.15L63.91 355.38M67.28 338.15L67.28 355.38M70.65 338.15L70.65 355.38M74.01 338.15L74.01 355.38M77.38 338.15L77.38 355.38M80.74 338.15L80.74 355.38M84.11 338.15L84.11 355.38M87.48 338.15L87.48 355.38M90.84 338.15L90.84 355.38M94.21 338.15L94.21 355.38M97.58 338.15L97.58 355.38M100.94 338.15L100.94 355.38M104.31 338.15L104.31 355.38M107.67 338.15L107.67 355.38M111.04 338.15L111.04 355.38M112.72 338.15L249.62 385.02M112.72 341.71L249.62 388.58M112.72 345.26L249.62 392.14M112.72 348.82L249.62 395.7M112.72 352.38L249.62 399.25M168.02 374.87L249.62 402.81M115.92 339.21L112.72 348.54M119.11 340.27L113.81 355.76M122.31 341.33L116.98 356.88M125.5 342.39L120.16 358M128.7 343.46L123.33 359.12M131.89 344.52L126.51 360.24M135.08 345.58L129.68 361.36M138.28 346.64L132.86 362.48M141.47 347.7L136.03 363.6M144.67 348.76L139.21 364.72M147.86 349.83L142.38 365.83M151.06 350.89L145.56 366.95M154.25 351.95L148.73 368.07M157.45 353.01L151.91 369.19M160.64 354.07L155.08 370.31M163.84 355.13L158.26 371.43M167.03 356.2L161.43 372.55M170.22 357.26L164.6 373.67M173.42 358.32L167.78 374.79M176.61 359.38L170.95 375.91M179.81 360.44L174.13 377.03M183 361.5L177.3 378.15M186.2 362.57L180.48 379.26M189.39 363.63L183.65 380.38M192.59 364.69L186.83 381.5M195.78 365.75L190 382.62M198.98 366.81L193.18 383.74M202.17 367.88L196.35 384.86M205.36 368.94L199.53 385.98M208.56 370L202.7 387.1M211.75 371.06L205.88 388.22M214.95 372.12L209.05 389.34M218.14 373.18L212.23 390.46M221.34 374.25L215.4 391.57M224.53 375.31L218.58 392.69M227.73 376.37L221.75 393.81M230.92 377.43L224.93 394.93M234.11 378.49L228.1 396.05M237.31 379.55L231.28 397.17M240.5 380.62L234.45 398.29M243.7 381.68L237.63 399.41M246.89 382.74L240.8 400.53M249.62 385.18L243.98 401.65M249.62 395.57L247.15 402.77M249.62 387.07L403.76 416.57M249.62 390.5L379.45 415.34M249.62 393.93L355.14 414.12M249.62 397.35L330.83 412.89M249.62 400.78L306.53 411.67M252.88 384.47L249.62 401.55M256.15 385.29L252.53 404.22M259.42 386.11L255.83 404.89M262.69 386.94L259.13 405.55M265.96 387.76L262.43 406.22M269.23 388.58L265.73 406.88M272.53 389.27L269.03 407.55M275.84 389.89L272.33 408.21M279.14 390.52L275.63 408.88M282.45 391.15L278.93 409.54M285.76 391.78L282.23 410.2M289.07 392.41L285.58 410.62M292.37 393.04L288.98 410.79M295.68 393.66L292.37 410.96M298.99 394.29L295.76 411.13M302.29 394.92L299.16 411.3M305.6 395.55L302.55 411.47M308.91 396.18L305.95 411.64M312.21 396.81L309.34 411.81M315.52 397.43L312.74 411.98M318.83 398.06L316.13 412.15M322.14 398.69L319.53 412.33M325.44 399.32L322.92 412.5M328.75 399.95L326.32 412.67M332.06 400.58L329.71 412.84M335.36 401.2L333.1 413.01M338.67 401.83L336.5 413.18M341.98 402.46L339.89 413.35M345.29 403.09L343.29 413.52M348.59 403.72L346.68 413.69M351.9 404.34L350.08 413.86M355.21 404.97L353.47 414.03M358.51 405.6L356.87 414.21M361.82 406.23L360.26 414.38M365.13 406.86L363.66 414.55M368.43 407.49L367.05 414.72M371.74 408.11L370.45 414.89M375.05 408.74L373.84 415.06M378.36 409.37L377.23 415.23M381.66 410L380.63 415.4M384.97 410.63L384.02 415.57M388.28 411.26L387.42 415.74M391.58 411.88L390.81 415.91M394.89 412.51L394.21 416.09M398.2 413.14L397.6 416.26M401.5 413.77L401 416.43M404.81 414.4L404.39 416.6M408.12 415.03L407.79 416.77M411.43 415.65L411.18 416.94M414.73 416.28L414.57 417.11M418.04 416.91L417.97 417.28"/>
<path fill="none" stroke="#d8c4aa" stroke-width="0.8" stroke-opacity="0.54" d="M10.05 302.58L112.72 302.58M10.05 304.92L112.72 304.92M10.05 307.26L112.72 307.26M10.05 309.6L112.72 309.6M10.05 311.95L112.72 311.95M10.05 314.29L112.72 314.29M10.05 316.63L112.72 316.63M10.05 318.97L112.72 318.97M10.05 321.32L112.72 321.32M10.05 323.66L112.72 323.66M10.05 326L112.72 326M10.05 328.34L112.72 328.34M10.05 330.69L112.72 330.69M10.05 333.03L112.72 333.03M10.05 335.37L112.72 335.37M10.05 337.71L112.72 337.71M12.4 300.23L12.4 338.15M14.74 300.23L14.74 338.15M17.08 300.23L17.08 338.15M19.42 300.23L19.42 338.15M21.77 300.23L21.77 338.15M24.11 300.23L24.11 338.15M26.45 300.23L26.45 338.15M28.79 300.23L28.79 338.15M31.14 300.23L31.14 338.15M33.48 300.23L33.48 338.15M35.82 300.23L35.82 338.15M38.16 300.23L38.16 338.15M40.51 300.23L40.51 338.15M42.85 300.23L42.85 338.15M45.19 300.23L45.19 338.15M47.53 300.23L47.53 338.15M49.88 300.23L49.88 338.15M52.22 300.23L52.22 338.15M54.56 300.23L54.56 338.15M56.91 300.23L56.91 338.15M59.25 300.23L59.25 338.15M61.59 300.23L61.59 338.15M63.93 300.23L63.93 338.15M66.28 300.23L66.28 338.15M68.62 300.23L68.62 338.15M70.96 300.23L70.96 338.15M73.3 300.23L73.3 338.15M75.65 300.23L75.65 338.15M77.99 300.23L77.99 338.15M80.33 300.23L80.33 338.15M82.67 300.23L82.67 338.15M85.02 300.23L85.02 338.15M87.36 300.23L87.36 338.15M89.7 300.23L89.7 338.15M92.04 300.23L92.04 338.15M94.39 300.23L94.39 338.15M96.73 300.23L96.73 338.15M99.07 300.23L99.07 338.15M101.41 300.23L101.41 338.15M103.76 300.23L103.76 338.15M106.1 300.23L106.1 338.15M108.44 300.23L108.44 338.15M110.78 300.23L110.78 338.15M146.16 303.6L150.62 305.4M137.8 302.76L189.63 323.64M129.44 301.92L209.23 334.06M121.08 301.08L209.23 336.59M112.72 300.23L209.23 339.11M112.72 302.76L209.23 341.64M112.72 305.28L209.23 344.16M112.72 307.81L209.23 346.69M112.72 310.34L209.23 349.21M112.72 312.86L209.23 351.74M112.72 315.39L209.23 354.27M112.72 317.91L209.23 356.79M112.72 320.44L209.23 359.32M112.72 322.96L209.23 361.84M112.72 325.49L209.23 364.37M112.72 328.01L209.23 366.89M112.72 330.54L209.23 369.42M112.72 333.07L184.81 362.11M112.72 335.59L148.99 350.2M112.72 338.12L113.17 338.29M115.15 300.48L112.72 306.5M117.58 300.72L112.72 312.77M120 300.97L112.72 319.04M122.43 301.21L112.72 325.31M124.86 301.46L112.72 331.58M127.29 301.7L112.72 337.85M129.71 301.94L114.84 338.85M132.14 302.19L117.07 339.59M134.57 302.43L119.3 340.33M136.99 302.68L121.53 341.07M139.42 302.92L123.75 341.81M141.85 303.17L125.98 342.55M144.27 303.41L128.21 343.29M146.7 303.66L130.43 344.03M148.86 304.57L132.66 344.77M150.98 305.57L134.89 345.51M153.11 306.56L137.12 346.25M155.23 307.55L139.34 346.99M157.36 308.55L141.57 347.74M159.48 309.54L143.8 348.48M161.61 310.54L146.03 349.22M163.73 311.53L148.25 349.96M165.86 312.52L150.48 350.7M167.98 313.52L152.71 351.44M170.11 314.51L154.94 352.18M172.23 315.5L157.16 352.92M174.36 316.5L159.39 353.66M176.48 317.49L161.62 354.4M178.61 318.49L163.84 355.14M180.73 319.48L166.07 355.88M182.86 320.47L168.3 356.62M184.99 321.47L170.53 357.36M187.11 322.46L172.75 358.1M189.24 323.45L174.98 358.84M191.36 324.45L177.21 359.58M193.49 325.44L179.44 360.32M195.61 326.44L181.66 361.06M197.74 327.43L183.89 361.8M199.86 328.42L186.12 362.54M201.99 329.42L188.34 363.28M204.11 330.41L190.57 364.02M206.24 331.4L192.8 364.76M208.36 332.4L195.03 365.5M209.23 336.51L197.25 366.24M209.23 342.78L199.48 366.98M209.23 349.05L201.71 367.72M209.23 355.31L203.94 368.46M209.23 361.58L206.16 369.2M209.23 367.85L208.39 369.94M209.23 335.45L223.97 343.17M209.23 338.09L238.71 353.53M209.23 340.74L253.44 363.89M209.23 343.38L265.36 372.78M209.23 346.03L265.36 375.42M209.23 348.67L265.36 378.06M209.23 351.32L265.36 380.71M209.23 353.96L265.36 383.35M209.23 356.6L265.36 386M209.23 359.25L261.55 386.65M209.23 361.89L251.83 384.2M209.23 364.54L238.94 380.1M209.23 367.18L225.12 375.5M209.23 369.83L211.3 370.91M211.16 334.16L209.23 337.85M213.1 335.52L209.23 342.9M215.03 336.88L209.23 347.95M216.96 338.24L209.23 353M218.9 339.6L209.23 358.05M220.83 340.96L209.23 363.1M222.76 342.32L209.23 368.15M224.69 343.68L210.56 370.66M226.63 345.04L212.81 371.41M228.56 346.39L215.06 372.16M230.49 347.75L217.32 372.91M232.42 349.11L219.57 373.66M234.36 350.47L221.82 374.41M236.29 351.83L224.07 375.15M238.22 353.19L226.33 375.9M240.15 354.55L228.58 376.65M242.09 355.91L230.83 377.4M244.02 357.27L233.08 378.15M245.95 358.62L235.34 378.9M247.89 359.98L237.59 379.65M249.82 361.34L239.84 380.39M251.75 362.7L242.09 381.14M253.68 364.06L244.34 381.89M255.62 365.42L246.6 382.64M257.55 366.78L248.85 383.39M259.48 368.14L251.16 384.03M261.41 369.5L253.49 384.62M263.35 370.86L255.83 385.21M265.28 372.21L258.17 385.8M265.36 377.11L260.5 386.38M265.36 382.16L262.84 386.97M265.36 387.21L265.18 387.56M265.36 372.43L303.35 377.41M265.36 374.8L303.35 379.77M265.36 377.16L303.35 382.13M265.36 379.52L303.35 384.5M265.36 381.89L303.35 386.86M265.36 384.25L303.35 389.22M265.36 386.61L303.35 391.58M283.47 391.34L303.35 393.95M266.75 372.4L265.36 383.07M269.09 372.62L267.07 388.04M271.42 372.85L269.36 388.61M273.75 373.07L271.66 389.1M276.09 373.29L273.96 389.54M278.42 373.51L276.27 389.98M280.75 373.74L278.57 390.41M283.09 373.96L280.88 390.85M285.42 374.18L283.18 391.29M287.76 374.4L285.49 391.73M290.09 374.63L287.79 392.17M292.42 374.85L290.1 392.6M294.76 375.07L292.4 393.04M297.09 375.29L294.71 393.48M299.42 375.51L297.01 393.92M301.76 375.74L299.32 394.36M303.35 381.64L301.62 394.79M303.35 378.21L331.68 385.92M303.35 380.64L361.33 396.4M303.35 383.06L390.97 406.89M303.35 385.49L420.62 417.38M303.35 387.92L391.22 411.81M303.35 390.35L361.59 406.19M303.35 392.78L331.97 400.56M304.32 376.24L303.35 379.84M306.54 377.02L303.35 388.76M308.75 377.8L304.01 395.25M310.97 378.59L306.32 395.69M313.18 379.37L308.63 396.12M315.4 380.15L310.94 396.56M317.61 380.94L313.24 397M319.83 381.72L315.55 397.44M322.04 382.5L317.86 397.88M324.26 383.29L320.17 398.32M326.47 384.07L322.48 398.76M328.68 384.85L324.79 399.19M330.9 385.64L327.09 399.63M333.11 386.42L329.4 400.07M335.33 387.2L331.71 400.51M337.54 387.99L334.02 400.95M339.76 388.77L336.33 401.39M341.97 389.56L338.64 401.82M344.19 390.34L340.94 402.26M346.4 391.12L343.25 402.7M348.62 391.91L345.56 403.14M350.83 392.69L347.87 403.58M353.04 393.47L350.18 404.02M355.26 394.26L352.49 404.46M357.47 395.04L354.79 404.89M359.69 395.82L357.1 405.33M361.9 396.61L359.41 405.77M364.12 397.39L361.72 406.21M366.33 398.17L364.03 406.65M368.55 398.96L366.34 407.09M370.76 399.74L368.64 407.53M372.98 400.53L370.95 407.96M375.19 401.31L373.26 408.4M377.4 402.09L375.57 408.84M379.62 402.88L377.88 409.28M381.83 403.66L380.19 409.72M384.05 404.44L382.49 410.16M386.26 405.23L384.8 410.6M388.48 406.01L387.11 411.03M390.69 406.79L389.42 411.47M392.91 407.58L391.73 411.91M395.12 408.36L394.04 412.35M397.34 409.14L396.34 412.79M399.55 409.93L398.65 413.23M401.76 410.71L400.96 413.67M403.98 411.49L403.27 414.1M406.19 412.28L405.58 414.54M408.41 413.06L407.89 414.98M410.62 413.85L410.19 415.42M412.84 414.63L412.5 415.86M415.05 415.41L414.81 416.3M417.27 416.2L417.12 416.74"/>
<g fill="none" stroke="#170e08" stroke-width="1.15" stroke-linejoin="round">
<polyline points="10.05,338.15 112.72,338.15 249.62,383.64 270.15,388.81 420.73,417.42"/>
<polyline points="10.05,355.38 112.72,355.38 249.62,403.63 283.84,410.53 420.73,417.42"/>
<polyline points="10.05,300.23 112.72,300.23 146.95,303.68 209.23,332.80 265.36,372.27 303.35,375.89 420.73,417.42 523.40,417.42 523.40,489.80 10.05,489.80 10.05,300.23" stroke-width="1.25"/>
</g>
<g stroke="#2b2b2b" stroke-width="0.8" fill="none">
<path d="M78.5 283V489.8"/>
<path d="M78.5 283.5h8 M78.5 317.5h8 M78.5 352.5h8 M78.5 386.5h8 M78.5 421.5h8 M78.5 455.5h8 M78.5 490.5h8 M112.72 489.8v-8 M146.95 489.8v-8 M181.17 489.8v-8 M215.39 489.8v-8 M249.62 489.8v-8 M283.84 489.8v-8 M318.06 489.8v-8 M352.28 489.8v-8 M386.51 489.8v-8 M420.73 489.8v-8 M454.95 489.8v-8 M489.18 489.8v-8 M523.4 489.8v-8"/>
</g>
<g font-family="'Liberation Sans', sans-serif" font-size="7" fill="#2c2c2c">
<text x="73.3" y="285.9" text-anchor="end">731</text>
<text x="73.3" y="320.37" text-anchor="end">721</text>
<text x="73.3" y="354.83" text-anchor="end">711</text>
<text x="73.3" y="389.3" text-anchor="end">701</text>
<text x="73.3" y="423.77" text-anchor="end">691</text>
<text x="73.3" y="458.23" text-anchor="end">681</text>
<text x="73.3" y="492.7" text-anchor="end">671</text>
<text x="78.5" y="501.4" text-anchor="middle">0</text>
<text x="112.72" y="501.4" text-anchor="middle">10</text>
<text x="146.95" y="501.4" text-anchor="middle">20</text>
<text x="181.17" y="501.4" text-anchor="middle">30</text>
<text x="215.39" y="501.4" text-anchor="middle">40</text>
<text x="249.62" y="501.4" text-anchor="middle">50</text>
<text x="283.84" y="501.4" text-anchor="middle">60</text>
<text x="318.06" y="501.4" text-anchor="middle">70</text>
<text x="352.28" y="501.4" text-anchor="middle">80</text>
<text x="386.51" y="501.4" text-anchor="middle">90</text>
<text x="420.73" y="501.4" text-anchor="middle">100</text>
<text x="454.95" y="501.4" text-anchor="middle">110</text>
<text x="489.18" y="501.4" text-anchor="middle">120</text>
<text x="523.4" y="501.4" text-anchor="middle">130</text>
</g>
<g font-family="'Liberation Sans', sans-serif" font-size="11.5" fill="#1e1e1e">
<text x="303" y="518.4" text-anchor="middle">Distance</text>
<text transform="translate(52.49 386.23) rotate(-90)" text-anchor="middle">Elevation</text>
</g>
<g font-family="'Liberation Sans', sans-serif" font-size="5" fill="#3c3c3c" text-anchor="middle">
<text x="189.38" y="377.61">Stiff Clay</text>
<text x="230.11" y="440.69">Bedrock</text>
<text x="142.5" y="343.49" fill="#2a0f06" fill-opacity="0.7" text-anchor="start">Embankment</text>
</g>
<polyline points="112.65,300.41 118.75,308.71 124.26,314.78 129.70,319.22 135.21,323.57 140.72,327.53 146.23,330.81 151.74,332.98 157.25,335.25 162.86,336.73 173.88,340.01 184.80,343.97 195.82,347.21 206.84,351.69 217.00,355.93 228.02,360.96 238.94,365.34 249.96,368.10 263.13,370.89" fill="none" stroke="#fff000" stroke-width="1.4" stroke-linejoin="round" stroke-linecap="round"/>
<polyline points="112.95,297.95 147.57,301.43 210.39,330.81 266.18,370.04 303.85,373.63 421.12,415.12 523.40,415.12" fill="none" stroke="#00ff3c" stroke-width="4.6" stroke-linejoin="bevel"/>
<polyline points="112.97,297.80 147.61,301.28 210.46,330.68 266.24,369.89 303.88,373.48 421.15,414.97 523.40,414.97" fill="none" stroke="#fff" stroke-width="3.2" stroke-dasharray="1.45 1.9"/>
<g font-family="'Liberation Serif', serif" font-weight="bold" stroke-width="0.4" stroke-linejoin="round">
<text x="101.8" y="291.8" font-size="12.2" fill="#00ff3c" stroke="#00ff3c" textLength="132.4" lengthAdjust="spacingAndGlyphs">Rainfall flux &amp; Seepage face</text>
<text x="360.8" y="378.4" font-size="12.2" fill="#00ff3c" stroke="#00ff3c" textLength="132.7" lengthAdjust="spacingAndGlyphs">Rainfall flux &amp; Seepage face</text>
<text transform="translate(175 354.8) rotate(15.7)" font-size="10.87" fill="#fff000" stroke="#fff000" stroke-width="0.2">Actual slip surface</text>
</g>
<g font-family="'Liberation Serif', serif" font-size="13.8" fill="#111"><text x="260.6" y="266.2">(a)</text><text x="259.8" y="541.7" font-size="15">(b)</text></g>
</svg>
</body></html>
